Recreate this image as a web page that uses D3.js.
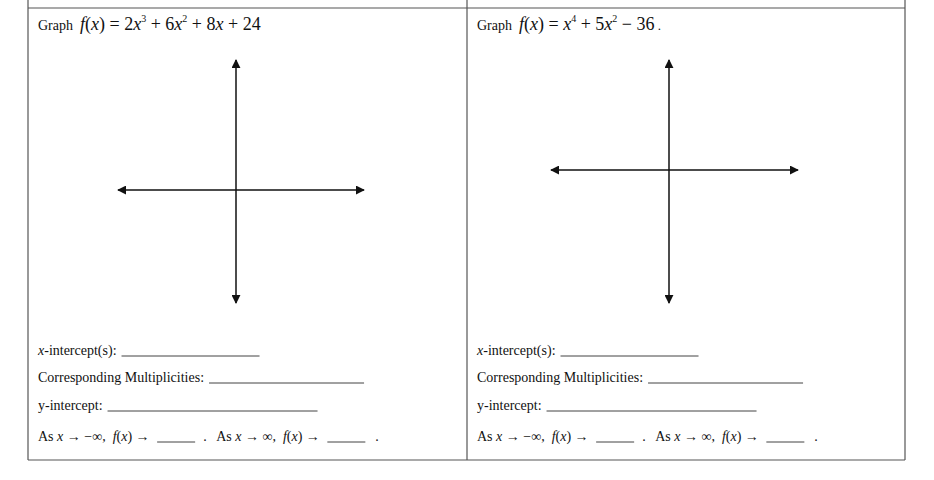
<!DOCTYPE html>
<html><head><meta charset="utf-8">
<script src="https://cdn.jsdelivr.net/npm/d3@7"></script>
<style>body{margin:0;background:#fff}svg{display:block}text{font-family:"Liberation Serif","Times New Roman",serif;fill:#111}</style>
</head><body>
<script>
// cells: left edge, right edge, title pieces
const cellEdges = [28, 467, 905];
const titles = [
  [["Graph  ", "n"], ["f", "i"], ["(", "n"], ["x", "i"], [") = 2", "n"], ["x", "i"], ["3", "s"], [" + 6", "n"], ["x", "i"], ["2", "s"], [" + 8", "n"], ["x", "i"], [" + 24", "n"]],
  [["Graph  ", "n"], ["f", "i"], ["(", "n"], ["x", "i"], [") = ", "n"], ["x", "i"], ["4", "s"], [" + 5", "n"], ["x", "i"], ["2", "s"], [" − 36", "n"], [" .", "n"]]
];
const axesX = [[118, 364], [551, 798]];
const axesY = [[60, 303], [60, 303]];
const axisCx = [236, 669];
const axisCy = [190, 170];
const blankLines = [
  ["x-intercept(s): ", 138, 355],
  ["Corresponding Multiplicities: ", 155, 382],
  ["y-intercept: ", 210, 410]
];

const W = 934, H = 480;
const svg = d3.select("body").append("svg").attr("width", W).attr("height", H);
const defs = svg.append("defs");
defs.append("marker").attr("id", "arr").attr("viewBox", "0 0 10 10").attr("refX", 9).attr("refY", 5)
  .attr("markerWidth", 9).attr("markerHeight", 9).attr("markerUnits", "userSpaceOnUse").attr("orient", "auto-start-reverse")
  .append("path").attr("d", "M0,0L10,5L0,10z").attr("fill", "#111");

const line = (x1, y1, x2, y2, w = 1.2, c = "#555") => svg.append("line").attr("x1", x1).attr("y1", y1).attr("x2", x2).attr("y2", y2).attr("stroke", c).attr("stroke-width", w);

// table borders
line(cellEdges[0], 8, cellEdges[2], 8);
line(cellEdges[0], 460, cellEdges[2], 460);
cellEdges.forEach(x => line(x, 0, x, 460));

cellEdges.slice(0, 2).forEach((x0, i) => {
  const t = svg.append("text").attr("x", x0 + 10).attr("y", 30).attr("font-size", 14).attr("xml:space", "preserve");
  titles[i].forEach(([s, k], j) => {
    const ts = t.append("tspan").text(s);
    if (k === "i") ts.attr("font-style", "italic").attr("font-size", 18);
    else if (k === "s") ts.attr("font-size", 10).attr("dy", -8);
    else if (j > 0) ts.attr("font-size", 18);
    const prev = titles[i][j - 1];
    if (prev && prev[1] === "s" && k !== "s") ts.attr("dy", 8);
    if (s === " .") ts.attr("font-size", 13);
  });

  line(axesX[i][0], axisCy[i], axesX[i][1], axisCy[i], 1.5, "#111").attr("marker-start", "url(#arr)").attr("marker-end", "url(#arr)");
  line(axisCx[i], axesY[i][0], axisCx[i], axesY[i][1], 1.5, "#111").attr("marker-start", "url(#arr)").attr("marker-end", "url(#arr)");

  blankLines.forEach(([label, len, y]) => {
    const tx = svg.append("text").attr("x", x0 + 10).attr("y", y).attr("font-size", 14);
    if (label.startsWith("x-")) { tx.append("tspan").attr("font-style", "italic").text("x"); tx.append("tspan").text(label.slice(1)); }
    else tx.text(label);
    const w = tx.node().getComputedTextLength();
    line(x0 + 15 + w, y + 1, x0 + 15 + w + len, y + 1, 0.8, "#111");
  });

  const y = 441;
  const addExpr = (t, inf) => {
    t.append("tspan").text("As ");
    t.append("tspan").attr("font-style", "italic").text("x");
    t.append("tspan").text(" → " + inf + ",  ");
    t.append("tspan").attr("font-style", "italic").text("f");
    t.append("tspan").text("(");
    t.append("tspan").attr("font-style", "italic").text("x");
    t.append("tspan").text(") → ");
  };
  const t4 = svg.append("text").attr("x", x0 + 10).attr("y", y).attr("font-size", 14).attr("xml:space", "preserve");
  addExpr(t4, "−∞");
  let w = t4.node().getComputedTextLength();
  line(x0 + 14 + w, y + 1, x0 + 14 + w + 38, y + 1, 0.8, "#111");
  const x2 = x0 + 14 + w + 46;
  svg.append("text").attr("x", x2).attr("y", y).attr("font-size", 14).text(".");
  const t5 = svg.append("text").attr("x", x2 + 13).attr("y", y).attr("font-size", 14).attr("xml:space", "preserve");
  addExpr(t5, "∞");
  w = t5.node().getComputedTextLength();
  line(x2 + 17 + w, y + 1, x2 + 17 + w + 38, y + 1, 0.8, "#111");
  svg.append("text").attr("x", x2 + 17 + w + 48).attr("y", y).attr("font-size", 14).text(".");
});
</script>
</body></html>
